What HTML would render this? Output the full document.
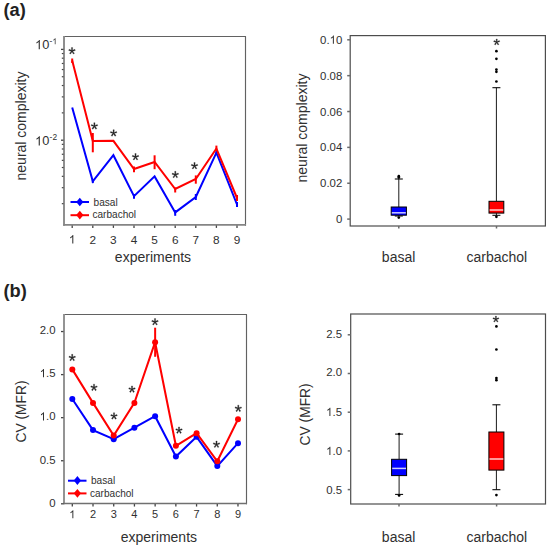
<!DOCTYPE html>
<html><head><meta charset="utf-8"><style>
html,body{margin:0;padding:0;background:#fff;}
svg{display:block;font-family:"Liberation Sans",sans-serif;}
</style></head><body>
<svg width="550" height="549" viewBox="0 0 550 549">
<rect width="550" height="549" fill="#fff"/>
<text x="3.5" y="16.2" font-size="18.3" text-anchor="start" font-weight="bold" fill="#222" >(a)</text>
<text x="3.5" y="297.0" font-size="18.3" text-anchor="start" font-weight="bold" fill="#222" >(b)</text>
<line x1="64.00" y1="36.50" x2="246.00" y2="36.50" stroke="#626262" stroke-width="1.15" />
<line x1="245.50" y1="36.50" x2="245.50" y2="225.80" stroke="#626262" stroke-width="1.15" />
<line x1="64.00" y1="36.00" x2="64.00" y2="225.80" stroke="#8a8a8a" stroke-width="1.9" />
<line x1="63.10" y1="224.90" x2="246.00" y2="224.90" stroke="#858585" stroke-width="1.8" />
<line x1="61.00" y1="49.40" x2="63.50" y2="49.40" stroke="#454545" stroke-width="1.3" />
<line x1="61.00" y1="140.20" x2="63.50" y2="140.20" stroke="#454545" stroke-width="1.3" />
<line x1="61.80" y1="112.87" x2="63.50" y2="112.87" stroke="#454545" stroke-width="1.2" />
<line x1="61.80" y1="96.88" x2="63.50" y2="96.88" stroke="#454545" stroke-width="1.2" />
<line x1="61.80" y1="85.53" x2="63.50" y2="85.53" stroke="#454545" stroke-width="1.2" />
<line x1="61.80" y1="76.73" x2="63.50" y2="76.73" stroke="#454545" stroke-width="1.2" />
<line x1="61.80" y1="69.54" x2="63.50" y2="69.54" stroke="#454545" stroke-width="1.2" />
<line x1="61.80" y1="63.47" x2="63.50" y2="63.47" stroke="#454545" stroke-width="1.2" />
<line x1="61.80" y1="58.20" x2="63.50" y2="58.20" stroke="#454545" stroke-width="1.2" />
<line x1="61.80" y1="53.55" x2="63.50" y2="53.55" stroke="#454545" stroke-width="1.2" />
<line x1="61.80" y1="203.67" x2="63.50" y2="203.67" stroke="#454545" stroke-width="1.2" />
<line x1="61.80" y1="187.68" x2="63.50" y2="187.68" stroke="#454545" stroke-width="1.2" />
<line x1="61.80" y1="176.33" x2="63.50" y2="176.33" stroke="#454545" stroke-width="1.2" />
<line x1="61.80" y1="167.53" x2="63.50" y2="167.53" stroke="#454545" stroke-width="1.2" />
<line x1="61.80" y1="160.34" x2="63.50" y2="160.34" stroke="#454545" stroke-width="1.2" />
<line x1="61.80" y1="154.27" x2="63.50" y2="154.27" stroke="#454545" stroke-width="1.2" />
<line x1="61.80" y1="149.00" x2="63.50" y2="149.00" stroke="#454545" stroke-width="1.2" />
<line x1="61.80" y1="144.35" x2="63.50" y2="144.35" stroke="#454545" stroke-width="1.2" />
<path d="M763,0L583,0L583,1147Q518,1085 465,1054Q412,1023 359,992Q306,961 222,930L222,1104Q373,1175 429.5,1225.5Q486,1276 542.5,1326.5Q599,1377 646,1472L763,1472Z" fill="#303030" transform="translate(35.06,49.2) scale(0.00625,-0.00625)"/>
<text x="42.18" y="49.2" font-size="12.8" fill="#303030">0</text>
<text x="49.60" y="44.2" font-size="8.4" fill="#303030">-</text>
<path d="M763,0L583,0L583,1147Q518,1085 465,1054Q412,1023 359,992Q306,961 222,930L222,1104Q373,1175 429.5,1225.5Q486,1276 542.5,1326.5Q599,1377 646,1472L763,1472Z" fill="#303030" transform="translate(52.40,44.2) scale(0.00410,-0.00410)"/>
<path d="M763,0L583,0L583,1147Q518,1085 465,1054Q412,1023 359,992Q306,961 222,930L222,1104Q373,1175 429.5,1225.5Q486,1276 542.5,1326.5Q599,1377 646,1472L763,1472Z" fill="#303030" transform="translate(35.06,145.4) scale(0.00625,-0.00625)"/>
<text x="42.18" y="145.4" font-size="12.8" fill="#303030">0</text>
<text x="49.60" y="140.3" font-size="8.4" fill="#303030">-</text>
<text x="52.40" y="140.3" font-size="8.4" fill="#303030">2</text>
<line x1="72.20" y1="225.40" x2="72.20" y2="227.90" stroke="#454545" stroke-width="1.3" />
<path d="M763,0L583,0L583,1147Q518,1085 465,1054Q412,1023 359,992Q306,961 222,930L222,1104Q373,1175 429.5,1225.5Q486,1276 542.5,1326.5Q599,1377 646,1472L763,1472Z" fill="#303030" transform="translate(68.92,243.6) scale(0.00576,-0.00576)"/>
<line x1="92.80" y1="225.40" x2="92.80" y2="227.90" stroke="#454545" stroke-width="1.3" />
<text x="89.52" y="243.6" font-size="11.8" fill="#303030">2</text>
<line x1="113.40" y1="225.40" x2="113.40" y2="227.90" stroke="#454545" stroke-width="1.3" />
<text x="110.12" y="243.6" font-size="11.8" fill="#303030">3</text>
<line x1="134.00" y1="225.40" x2="134.00" y2="227.90" stroke="#454545" stroke-width="1.3" />
<text x="130.72" y="243.6" font-size="11.8" fill="#303030">4</text>
<line x1="154.60" y1="225.40" x2="154.60" y2="227.90" stroke="#454545" stroke-width="1.3" />
<text x="151.32" y="243.6" font-size="11.8" fill="#303030">5</text>
<line x1="175.20" y1="225.40" x2="175.20" y2="227.90" stroke="#454545" stroke-width="1.3" />
<text x="171.92" y="243.6" font-size="11.8" fill="#303030">6</text>
<line x1="195.80" y1="225.40" x2="195.80" y2="227.90" stroke="#454545" stroke-width="1.3" />
<text x="192.52" y="243.6" font-size="11.8" fill="#303030">7</text>
<line x1="216.40" y1="225.40" x2="216.40" y2="227.90" stroke="#454545" stroke-width="1.3" />
<text x="213.12" y="243.6" font-size="11.8" fill="#303030">8</text>
<line x1="237.00" y1="225.40" x2="237.00" y2="227.90" stroke="#454545" stroke-width="1.3" />
<text x="233.72" y="243.6" font-size="11.8" fill="#303030">9</text>
<text x="153.0" y="262" font-size="14" text-anchor="middle" font-weight="normal" fill="#303030" >experiments</text>
<text transform="translate(26.3,126) rotate(-90)" font-size="14" text-anchor="middle" fill="#303030">neural complexity</text>
<polyline points="72.2,107.5 92.8,181.3 113.4,155.2 134.0,196.2 154.6,176.4 175.2,212.4 195.8,197.0 216.4,152.7 237.0,204.5" fill="none" stroke="#0000ff" stroke-width="2.0" stroke-linejoin="miter"/>
<line x1="92.80" y1="179.00" x2="92.80" y2="183.10" stroke="#0000ff" stroke-width="2" />
<line x1="134.00" y1="194.00" x2="134.00" y2="198.80" stroke="#0000ff" stroke-width="2" />
<line x1="175.20" y1="210.00" x2="175.20" y2="215.80" stroke="#0000ff" stroke-width="2" />
<line x1="195.80" y1="194.00" x2="195.80" y2="200.00" stroke="#0000ff" stroke-width="2" />
<line x1="237.00" y1="202.00" x2="237.00" y2="207.00" stroke="#0000ff" stroke-width="2" />
<line x1="216.40" y1="150.00" x2="216.40" y2="155.00" stroke="#0000ff" stroke-width="2" />
<polyline points="72.2,60.5 92.8,141.0 113.4,140.8 134.0,169.0 154.6,162.0 175.2,189.0 195.8,179.0 216.4,148.5 237.0,198.0" fill="none" stroke="#ff0000" stroke-width="2.0" stroke-linejoin="miter"/>
<line x1="72.20" y1="58.50" x2="72.20" y2="63.00" stroke="#ff0000" stroke-width="2" />
<line x1="92.80" y1="133.00" x2="92.80" y2="152.30" stroke="#ff0000" stroke-width="2" />
<line x1="134.00" y1="166.50" x2="134.00" y2="172.30" stroke="#ff0000" stroke-width="2" />
<line x1="154.60" y1="155.30" x2="154.60" y2="169.20" stroke="#ff0000" stroke-width="2" />
<line x1="175.20" y1="187.40" x2="175.20" y2="192.50" stroke="#ff0000" stroke-width="2" />
<line x1="195.80" y1="175.40" x2="195.80" y2="183.70" stroke="#ff0000" stroke-width="2" />
<line x1="216.40" y1="145.60" x2="216.40" y2="150.80" stroke="#ff0000" stroke-width="2" />
<line x1="237.00" y1="194.90" x2="237.00" y2="201.00" stroke="#ff0000" stroke-width="2" />
<path d="M456,1114L720,1217L765,1085L483,1012L668,762L549,690L399,948L243,692L124,764L313,1012L33,1085L78,1219L345,1112L333,1409L469,1409Z" fill="#262626" stroke="#262626" stroke-width="33.2" stroke-linejoin="round" transform="translate(72,50.800000000000004) scale(0.00903,-0.00903) translate(-399,-1049.5)"/>
<path d="M456,1114L720,1217L765,1085L483,1012L668,762L549,690L399,948L243,692L124,764L313,1012L33,1085L78,1219L345,1112L333,1409L469,1409Z" fill="#262626" stroke="#262626" stroke-width="33.2" stroke-linejoin="round" transform="translate(94.4,126.0) scale(0.00903,-0.00903) translate(-399,-1049.5)"/>
<path d="M456,1114L720,1217L765,1085L483,1012L668,762L549,690L399,948L243,692L124,764L313,1012L33,1085L78,1219L345,1112L333,1409L469,1409Z" fill="#262626" stroke="#262626" stroke-width="33.2" stroke-linejoin="round" transform="translate(113.6,133.0) scale(0.00903,-0.00903) translate(-399,-1049.5)"/>
<path d="M456,1114L720,1217L765,1085L483,1012L668,762L549,690L399,948L243,692L124,764L313,1012L33,1085L78,1219L345,1112L333,1409L469,1409Z" fill="#262626" stroke="#262626" stroke-width="33.2" stroke-linejoin="round" transform="translate(135.5,156.79999999999998) scale(0.00903,-0.00903) translate(-399,-1049.5)"/>
<path d="M456,1114L720,1217L765,1085L483,1012L668,762L549,690L399,948L243,692L124,764L313,1012L33,1085L78,1219L345,1112L333,1409L469,1409Z" fill="#262626" stroke="#262626" stroke-width="33.2" stroke-linejoin="round" transform="translate(175.3,174.6) scale(0.00903,-0.00903) translate(-399,-1049.5)"/>
<path d="M456,1114L720,1217L765,1085L483,1012L668,762L549,690L399,948L243,692L124,764L313,1012L33,1085L78,1219L345,1112L333,1409L469,1409Z" fill="#262626" stroke="#262626" stroke-width="33.2" stroke-linejoin="round" transform="translate(194.5,165.79999999999998) scale(0.00903,-0.00903) translate(-399,-1049.5)"/>
<line x1="70.50" y1="202.00" x2="89.00" y2="202.00" stroke="#0000ff" stroke-width="2" />
<path d="M79.8,197.7L83.39999999999999,202L79.8,206.3L76.2,202Z" fill="#0000ff"/>
<line x1="70.50" y1="215.20" x2="89.00" y2="215.20" stroke="#ff0000" stroke-width="2" />
<path d="M79.8,210.79999999999998L83.39999999999999,215.1L79.8,219.4L76.2,215.1Z" fill="#ff0000"/>
<text x="93.6" y="205.8" font-size="10.1" text-anchor="start" font-weight="normal" fill="#303030" >basal</text>
<text x="92.5" y="218.1" font-size="10.05" text-anchor="start" font-weight="normal" fill="#303030" >carbachol</text>
<rect x="350.2" y="35.6" width="195.2" height="190.4" fill="none" stroke="#4d4d4d" stroke-width="1.2"/>
<line x1="347.20" y1="219.10" x2="350.20" y2="219.10" stroke="#6b6b6b" stroke-width="1.5" />
<text x="335.96" y="223.1" font-size="11.4" fill="#303030">0</text>
<line x1="347.20" y1="183.24" x2="350.20" y2="183.24" stroke="#6b6b6b" stroke-width="1.5" />
<text x="320.11" y="187.24" font-size="11.4" fill="#303030">0</text>
<text x="326.45" y="187.24" font-size="11.4" fill="#303030">.</text>
<text x="329.62" y="187.24" font-size="11.4" fill="#303030">0</text>
<text x="335.96" y="187.24" font-size="11.4" fill="#303030">2</text>
<line x1="347.20" y1="147.38" x2="350.20" y2="147.38" stroke="#6b6b6b" stroke-width="1.5" />
<text x="320.11" y="151.38" font-size="11.4" fill="#303030">0</text>
<text x="326.45" y="151.38" font-size="11.4" fill="#303030">.</text>
<text x="329.62" y="151.38" font-size="11.4" fill="#303030">0</text>
<text x="335.96" y="151.38" font-size="11.4" fill="#303030">4</text>
<line x1="347.20" y1="111.52" x2="350.20" y2="111.52" stroke="#6b6b6b" stroke-width="1.5" />
<text x="320.11" y="115.52" font-size="11.4" fill="#303030">0</text>
<text x="326.45" y="115.52" font-size="11.4" fill="#303030">.</text>
<text x="329.62" y="115.52" font-size="11.4" fill="#303030">0</text>
<text x="335.96" y="115.52" font-size="11.4" fill="#303030">6</text>
<line x1="347.20" y1="75.66" x2="350.20" y2="75.66" stroke="#6b6b6b" stroke-width="1.5" />
<text x="320.11" y="79.66" font-size="11.4" fill="#303030">0</text>
<text x="326.45" y="79.66" font-size="11.4" fill="#303030">.</text>
<text x="329.62" y="79.66" font-size="11.4" fill="#303030">0</text>
<text x="335.96" y="79.66" font-size="11.4" fill="#303030">8</text>
<line x1="347.20" y1="39.80" x2="350.20" y2="39.80" stroke="#6b6b6b" stroke-width="1.5" />
<text x="320.11" y="43.79999999999998" font-size="11.4" fill="#303030">0</text>
<text x="326.45" y="43.79999999999998" font-size="11.4" fill="#303030">.</text>
<path d="M763,0L583,0L583,1147Q518,1085 465,1054Q412,1023 359,992Q306,961 222,930L222,1104Q373,1175 429.5,1225.5Q486,1276 542.5,1326.5Q599,1377 646,1472L763,1472Z" fill="#303030" transform="translate(329.62,43.79999999999998) scale(0.00557,-0.00557)"/>
<text x="335.96" y="43.79999999999998" font-size="11.4" fill="#303030">0</text>
<line x1="398.80" y1="226.00" x2="398.80" y2="228.50" stroke="#6b6b6b" stroke-width="1.5" />
<line x1="496.50" y1="226.00" x2="496.50" y2="228.50" stroke="#6b6b6b" stroke-width="1.5" />
<text x="398.6" y="262.3" font-size="14.0" text-anchor="middle" font-weight="normal" fill="#303030" >basal</text>
<text x="496.8" y="262.3" font-size="14.0" text-anchor="middle" font-weight="normal" fill="#303030" >carbachol</text>
<text transform="translate(307.3,128) rotate(-90)" font-size="14" text-anchor="middle" fill="#303030">neural complexity</text>
<line x1="398.80" y1="179.00" x2="398.80" y2="207.00" stroke="#1a1a1a" stroke-width="1" />
<line x1="398.80" y1="215.20" x2="398.80" y2="216.00" stroke="#1a1a1a" stroke-width="1" />
<line x1="394.80" y1="179.00" x2="402.80" y2="179.00" stroke="#000" stroke-width="1.05" />
<line x1="394.80" y1="216.00" x2="402.80" y2="216.00" stroke="#000" stroke-width="1.05" />
<rect x="391.2" y="207" width="15.2" height="8.199999999999989" fill="#0000ff" stroke="#000" stroke-width="1"/>
<line x1="391.80" y1="212.80" x2="405.80" y2="212.80" stroke="#fff" stroke-width="1.5" stroke-opacity="0.8"/>
<circle cx="398.8" cy="176.2" r="1.35" fill="#000"/>
<circle cx="398.8" cy="177.6" r="1.35" fill="#000"/>
<circle cx="398.8" cy="217.6" r="1.35" fill="#000"/>
<line x1="496.40" y1="87.70" x2="496.40" y2="201.30" stroke="#1a1a1a" stroke-width="1" />
<line x1="496.40" y1="213.10" x2="496.40" y2="215.30" stroke="#1a1a1a" stroke-width="1" />
<line x1="492.40" y1="87.70" x2="500.40" y2="87.70" stroke="#000" stroke-width="1.05" />
<line x1="492.40" y1="215.30" x2="500.40" y2="215.30" stroke="#000" stroke-width="1.05" />
<rect x="489.0" y="201.3" width="14.8" height="11.799999999999983" fill="#ff0000" stroke="#000" stroke-width="1"/>
<line x1="489.60" y1="210.00" x2="503.20" y2="210.00" stroke="#fff" stroke-width="1.5" stroke-opacity="0.8"/>
<circle cx="496.4" cy="81.5" r="1.35" fill="#000"/>
<circle cx="496.4" cy="71.8" r="1.35" fill="#000"/>
<circle cx="496.4" cy="69.6" r="1.35" fill="#000"/>
<circle cx="496.4" cy="58.8" r="1.35" fill="#000"/>
<circle cx="496.4" cy="51.2" r="1.35" fill="#000"/>
<circle cx="496.4" cy="216.8" r="1.35" fill="#000"/>
<path d="M456,1114L720,1217L765,1085L483,1012L668,762L549,690L399,948L243,692L124,764L313,1012L33,1085L78,1219L345,1112L333,1409L469,1409Z" fill="#262626" stroke="#262626" stroke-width="36.1" stroke-linejoin="round" transform="translate(496.7,42.0) scale(0.00830,-0.00830) translate(-399,-1049.5)"/>
<line x1="64.00" y1="314.50" x2="247.00" y2="314.50" stroke="#626262" stroke-width="1.15" />
<line x1="246.50" y1="314.50" x2="246.50" y2="504.25" stroke="#626262" stroke-width="1.15" />
<line x1="64.00" y1="314.00" x2="64.00" y2="504.25" stroke="#8f8f8f" stroke-width="1.9" />
<line x1="63.10" y1="503.55" x2="247.00" y2="503.55" stroke="#707070" stroke-width="1.4" />
<line x1="61.00" y1="503.80" x2="63.50" y2="503.80" stroke="#454545" stroke-width="1.3" />
<text x="49.26" y="507.2" font-size="11.4" fill="#303030">0</text>
<line x1="61.00" y1="460.74" x2="63.50" y2="460.74" stroke="#454545" stroke-width="1.3" />
<text x="39.75" y="463.75" font-size="11.4" fill="#303030">0</text>
<text x="46.09" y="463.75" font-size="11.4" fill="#303030">.</text>
<text x="49.26" y="463.75" font-size="11.4" fill="#303030">5</text>
<line x1="61.00" y1="417.67" x2="63.50" y2="417.67" stroke="#454545" stroke-width="1.3" />
<path d="M763,0L583,0L583,1147Q518,1085 465,1054Q412,1023 359,992Q306,961 222,930L222,1104Q373,1175 429.5,1225.5Q486,1276 542.5,1326.5Q599,1377 646,1472L763,1472Z" fill="#303030" transform="translate(39.75,420.45) scale(0.00557,-0.00557)"/>
<text x="46.09" y="420.45" font-size="11.4" fill="#303030">.</text>
<text x="49.26" y="420.45" font-size="11.4" fill="#303030">0</text>
<line x1="61.00" y1="374.61" x2="63.50" y2="374.61" stroke="#454545" stroke-width="1.3" />
<path d="M763,0L583,0L583,1147Q518,1085 465,1054Q412,1023 359,992Q306,961 222,930L222,1104Q373,1175 429.5,1225.5Q486,1276 542.5,1326.5Q599,1377 646,1472L763,1472Z" fill="#303030" transform="translate(39.75,377.25) scale(0.00557,-0.00557)"/>
<text x="46.09" y="377.25" font-size="11.4" fill="#303030">.</text>
<text x="49.26" y="377.25" font-size="11.4" fill="#303030">5</text>
<line x1="61.00" y1="331.54" x2="63.50" y2="331.54" stroke="#454545" stroke-width="1.3" />
<text x="39.75" y="333.75" font-size="11.4" fill="#303030">2</text>
<text x="46.09" y="333.75" font-size="11.4" fill="#303030">.</text>
<text x="49.26" y="333.75" font-size="11.4" fill="#303030">0</text>
<line x1="72.30" y1="504.05" x2="72.30" y2="506.55" stroke="#454545" stroke-width="1.3" />
<path d="M763,0L583,0L583,1147Q518,1085 465,1054Q412,1023 359,992Q306,961 222,930L222,1104Q373,1175 429.5,1225.5Q486,1276 542.5,1326.5Q599,1377 646,1472L763,1472Z" fill="#303030" transform="translate(69.24,518.2) scale(0.00537,-0.00537)"/>
<line x1="93.01" y1="504.05" x2="93.01" y2="506.55" stroke="#454545" stroke-width="1.3" />
<text x="89.95" y="518.2" font-size="11" fill="#303030">2</text>
<line x1="113.72" y1="504.05" x2="113.72" y2="506.55" stroke="#454545" stroke-width="1.3" />
<text x="110.66" y="518.2" font-size="11" fill="#303030">3</text>
<line x1="134.43" y1="504.05" x2="134.43" y2="506.55" stroke="#454545" stroke-width="1.3" />
<text x="131.37" y="518.2" font-size="11" fill="#303030">4</text>
<line x1="155.14" y1="504.05" x2="155.14" y2="506.55" stroke="#454545" stroke-width="1.3" />
<text x="152.08" y="518.2" font-size="11" fill="#303030">5</text>
<line x1="175.85" y1="504.05" x2="175.85" y2="506.55" stroke="#454545" stroke-width="1.3" />
<text x="172.79" y="518.2" font-size="11" fill="#303030">6</text>
<line x1="196.56" y1="504.05" x2="196.56" y2="506.55" stroke="#454545" stroke-width="1.3" />
<text x="193.50" y="518.2" font-size="11" fill="#303030">7</text>
<line x1="217.27" y1="504.05" x2="217.27" y2="506.55" stroke="#454545" stroke-width="1.3" />
<text x="214.21" y="518.2" font-size="11" fill="#303030">8</text>
<line x1="237.98" y1="504.05" x2="237.98" y2="506.55" stroke="#454545" stroke-width="1.3" />
<text x="234.92" y="518.2" font-size="11" fill="#303030">9</text>
<text x="158.9" y="542.0" font-size="14" text-anchor="middle" font-weight="normal" fill="#303030" >experiments</text>
<text transform="translate(25.6,411.5) rotate(-90)" font-size="13.8" text-anchor="middle" fill="#303030">CV (MFR)</text>
<polyline points="72.3,399.0 93.0,430.1 113.7,439.2 134.4,427.7 155.1,416.2 175.9,456.5 196.6,436.8 217.3,466.1 238.0,443.2" fill="none" stroke="#0000ff" stroke-width="2" stroke-linejoin="miter"/>
<circle cx="72.3" cy="399" r="3" fill="#0000ff"/>
<circle cx="93.0" cy="430.1" r="3" fill="#0000ff"/>
<circle cx="113.7" cy="439.2" r="3" fill="#0000ff"/>
<circle cx="134.4" cy="427.7" r="3" fill="#0000ff"/>
<circle cx="155.1" cy="416.2" r="3" fill="#0000ff"/>
<circle cx="175.9" cy="456.5" r="3" fill="#0000ff"/>
<circle cx="196.6" cy="436.8" r="3" fill="#0000ff"/>
<circle cx="217.3" cy="466.1" r="3" fill="#0000ff"/>
<circle cx="238.0" cy="443.2" r="3" fill="#0000ff"/>
<polyline points="72.3,369.4 93.0,402.9 113.7,435.6 134.4,402.9 155.1,342.2 175.9,445.8 196.6,433.2 217.3,461.3 238.0,419.2" fill="none" stroke="#ff0000" stroke-width="2" stroke-linejoin="miter"/>
<line x1="155.14" y1="327.70" x2="155.14" y2="356.80" stroke="#ff0000" stroke-width="2" />
<circle cx="72.3" cy="369.4" r="3" fill="#ff0000"/>
<circle cx="93.0" cy="402.9" r="3" fill="#ff0000"/>
<circle cx="113.7" cy="435.6" r="3" fill="#ff0000"/>
<circle cx="134.4" cy="402.9" r="3" fill="#ff0000"/>
<circle cx="155.1" cy="342.2" r="3" fill="#ff0000"/>
<circle cx="175.9" cy="445.8" r="3" fill="#ff0000"/>
<circle cx="196.6" cy="433.2" r="3" fill="#ff0000"/>
<circle cx="217.3" cy="461.3" r="3" fill="#ff0000"/>
<circle cx="238.0" cy="419.2" r="3" fill="#ff0000"/>
<path d="M456,1114L720,1217L765,1085L483,1012L668,762L549,690L399,948L243,692L124,764L313,1012L33,1085L78,1219L345,1112L333,1409L469,1409Z" fill="#262626" stroke="#262626" stroke-width="33.2" stroke-linejoin="round" transform="translate(72.2,357.6) scale(0.00903,-0.00903) translate(-399,-1049.5)"/>
<path d="M456,1114L720,1217L765,1085L483,1012L668,762L549,690L399,948L243,692L124,764L313,1012L33,1085L78,1219L345,1112L333,1409L469,1409Z" fill="#262626" stroke="#262626" stroke-width="33.2" stroke-linejoin="round" transform="translate(94,387.40000000000003) scale(0.00903,-0.00903) translate(-399,-1049.5)"/>
<path d="M456,1114L720,1217L765,1085L483,1012L668,762L549,690L399,948L243,692L124,764L313,1012L33,1085L78,1219L345,1112L333,1409L469,1409Z" fill="#262626" stroke="#262626" stroke-width="33.2" stroke-linejoin="round" transform="translate(114,416.0) scale(0.00903,-0.00903) translate(-399,-1049.5)"/>
<path d="M456,1114L720,1217L765,1085L483,1012L668,762L549,690L399,948L243,692L124,764L313,1012L33,1085L78,1219L345,1112L333,1409L469,1409Z" fill="#262626" stroke="#262626" stroke-width="33.2" stroke-linejoin="round" transform="translate(132,389.20000000000005) scale(0.00903,-0.00903) translate(-399,-1049.5)"/>
<path d="M456,1114L720,1217L765,1085L483,1012L668,762L549,690L399,948L243,692L124,764L313,1012L33,1085L78,1219L345,1112L333,1409L469,1409Z" fill="#262626" stroke="#262626" stroke-width="33.2" stroke-linejoin="round" transform="translate(155,321.8) scale(0.00903,-0.00903) translate(-399,-1049.5)"/>
<path d="M456,1114L720,1217L765,1085L483,1012L668,762L549,690L399,948L243,692L124,764L313,1012L33,1085L78,1219L345,1112L333,1409L469,1409Z" fill="#262626" stroke="#262626" stroke-width="33.2" stroke-linejoin="round" transform="translate(179,430.20000000000005) scale(0.00903,-0.00903) translate(-399,-1049.5)"/>
<path d="M456,1114L720,1217L765,1085L483,1012L668,762L549,690L399,948L243,692L124,764L313,1012L33,1085L78,1219L345,1112L333,1409L469,1409Z" fill="#262626" stroke="#262626" stroke-width="33.2" stroke-linejoin="round" transform="translate(216.5,444.3) scale(0.00903,-0.00903) translate(-399,-1049.5)"/>
<path d="M456,1114L720,1217L765,1085L483,1012L668,762L549,690L399,948L243,692L124,764L313,1012L33,1085L78,1219L345,1112L333,1409L469,1409Z" fill="#262626" stroke="#262626" stroke-width="33.2" stroke-linejoin="round" transform="translate(238.3,408.40000000000003) scale(0.00903,-0.00903) translate(-399,-1049.5)"/>
<line x1="68.00" y1="480.70" x2="86.50" y2="480.70" stroke="#0000ff" stroke-width="2" />
<path d="M77.4,476.1L81.0,480.5L77.4,484.9L73.80000000000001,480.5Z" fill="#0000ff"/>
<line x1="68.00" y1="493.40" x2="86.50" y2="493.40" stroke="#ff0000" stroke-width="2" />
<path d="M77.4,488.90000000000003L81.0,493.3L77.4,497.7L73.80000000000001,493.3Z" fill="#ff0000"/>
<text x="91.0" y="484.3" font-size="10.1" text-anchor="start" font-weight="normal" fill="#303030" >basal</text>
<text x="90.0" y="497.3" font-size="10.05" text-anchor="start" font-weight="normal" fill="#303030" >carbachol</text>
<rect x="350.7" y="314" width="194.8" height="190" fill="none" stroke="#4d4d4d" stroke-width="1.2"/>
<line x1="347.70" y1="489.60" x2="350.70" y2="489.60" stroke="#6b6b6b" stroke-width="1.5" />
<text x="326.15" y="493.85" font-size="11.4" fill="#303030">0</text>
<text x="332.49" y="493.85" font-size="11.4" fill="#303030">.</text>
<text x="335.66" y="493.85" font-size="11.4" fill="#303030">5</text>
<line x1="347.70" y1="450.90" x2="350.70" y2="450.90" stroke="#6b6b6b" stroke-width="1.5" />
<path d="M763,0L583,0L583,1147Q518,1085 465,1054Q412,1023 359,992Q306,961 222,930L222,1104Q373,1175 429.5,1225.5Q486,1276 542.5,1326.5Q599,1377 646,1472L763,1472Z" fill="#303030" transform="translate(326.15,454.95) scale(0.00557,-0.00557)"/>
<text x="332.49" y="454.95" font-size="11.4" fill="#303030">.</text>
<text x="335.66" y="454.95" font-size="11.4" fill="#303030">0</text>
<line x1="347.70" y1="412.20" x2="350.70" y2="412.20" stroke="#6b6b6b" stroke-width="1.5" />
<path d="M763,0L583,0L583,1147Q518,1085 465,1054Q412,1023 359,992Q306,961 222,930L222,1104Q373,1175 429.5,1225.5Q486,1276 542.5,1326.5Q599,1377 646,1472L763,1472Z" fill="#303030" transform="translate(326.15,415.95) scale(0.00557,-0.00557)"/>
<text x="332.49" y="415.95" font-size="11.4" fill="#303030">.</text>
<text x="335.66" y="415.95" font-size="11.4" fill="#303030">5</text>
<line x1="347.70" y1="373.50" x2="350.70" y2="373.50" stroke="#6b6b6b" stroke-width="1.5" />
<text x="326.15" y="376.45" font-size="11.4" fill="#303030">2</text>
<text x="332.49" y="376.45" font-size="11.4" fill="#303030">.</text>
<text x="335.66" y="376.45" font-size="11.4" fill="#303030">0</text>
<line x1="347.70" y1="334.80" x2="350.70" y2="334.80" stroke="#6b6b6b" stroke-width="1.5" />
<text x="326.15" y="338.05" font-size="11.4" fill="#303030">2</text>
<text x="332.49" y="338.05" font-size="11.4" fill="#303030">.</text>
<text x="335.66" y="338.05" font-size="11.4" fill="#303030">5</text>
<line x1="399.00" y1="504.00" x2="399.00" y2="506.50" stroke="#6b6b6b" stroke-width="1.5" />
<line x1="496.60" y1="504.00" x2="496.60" y2="506.50" stroke="#6b6b6b" stroke-width="1.5" />
<text x="398.6" y="541.6" font-size="14.0" text-anchor="middle" font-weight="normal" fill="#303030" >basal</text>
<text x="496.8" y="541.8" font-size="14.0" text-anchor="middle" font-weight="normal" fill="#303030" >carbachol</text>
<text transform="translate(310,414.4) rotate(-90)" font-size="13.8" text-anchor="middle" fill="#303030">CV (MFR)</text>
<line x1="399.10" y1="434.10" x2="399.10" y2="459.30" stroke="#1a1a1a" stroke-width="1" />
<line x1="399.10" y1="475.60" x2="399.10" y2="494.40" stroke="#1a1a1a" stroke-width="1" />
<line x1="395.10" y1="434.10" x2="403.10" y2="434.10" stroke="#000" stroke-width="1.05" />
<line x1="395.10" y1="494.40" x2="403.10" y2="494.40" stroke="#000" stroke-width="1.05" />
<rect x="391.6" y="459.3" width="15.0" height="16.30000000000001" fill="#0000ff" stroke="#000" stroke-width="1"/>
<line x1="392.20" y1="468.40" x2="406.00" y2="468.40" stroke="#fff" stroke-width="1.5" stroke-opacity="0.8"/>
<circle cx="399.1" cy="434" r="1.35" fill="#000"/>
<circle cx="399.1" cy="495.5" r="1.35" fill="#000"/>
<line x1="496.40" y1="404.80" x2="496.40" y2="432.00" stroke="#1a1a1a" stroke-width="1" />
<line x1="496.40" y1="470.10" x2="496.40" y2="489.70" stroke="#1a1a1a" stroke-width="1" />
<line x1="492.40" y1="404.80" x2="500.40" y2="404.80" stroke="#000" stroke-width="1.05" />
<line x1="492.40" y1="489.70" x2="500.40" y2="489.70" stroke="#000" stroke-width="1.05" />
<rect x="488.9" y="432" width="15.0" height="38.10000000000002" fill="#ff0000" stroke="#000" stroke-width="1"/>
<line x1="489.50" y1="459.00" x2="503.30" y2="459.00" stroke="#fff" stroke-width="1.5" stroke-opacity="0.8"/>
<circle cx="496.4" cy="495.1" r="1.35" fill="#000"/>
<circle cx="496.4" cy="378.1" r="1.35" fill="#000"/>
<circle cx="496.4" cy="380.2" r="1.35" fill="#000"/>
<circle cx="496.4" cy="349.5" r="1.35" fill="#000"/>
<circle cx="496.4" cy="326.4" r="1.35" fill="#000"/>
<path d="M456,1114L720,1217L765,1085L483,1012L668,762L549,690L399,948L243,692L124,764L313,1012L33,1085L78,1219L345,1112L333,1409L469,1409Z" fill="#262626" stroke="#262626" stroke-width="36.1" stroke-linejoin="round" transform="translate(495.9,319.1) scale(0.00830,-0.00830) translate(-399,-1049.5)"/>
</svg>
</body></html>
